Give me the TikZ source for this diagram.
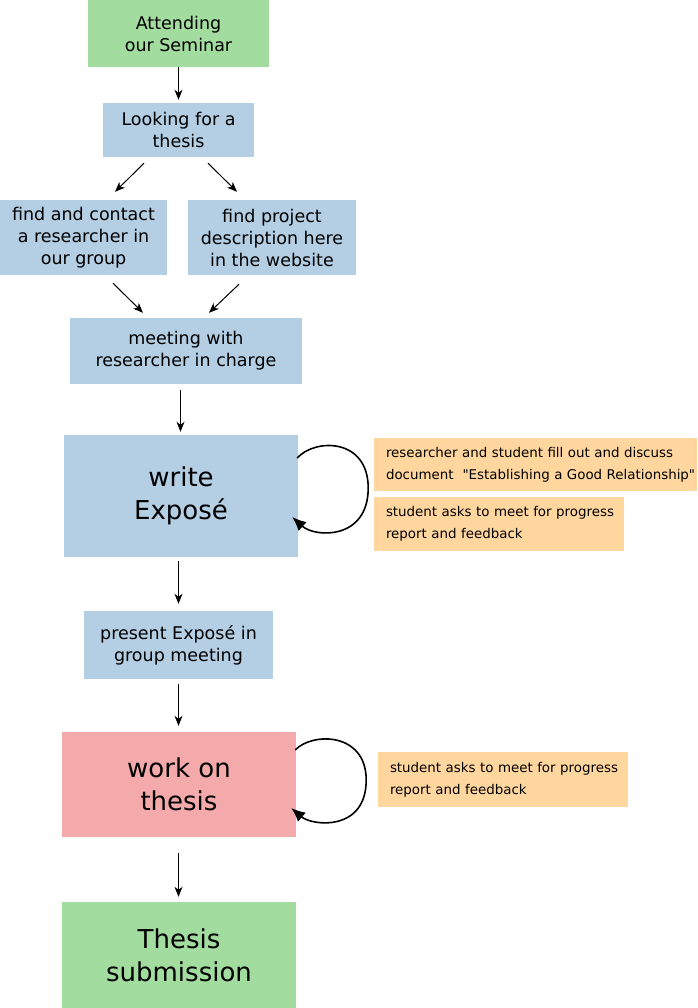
\documentclass[tikz,border=0pt]{standalone}
\usepackage{fontspec}
\setmainfont{DejaVu Sans}
\usepackage{tikz}
\usetikzlibrary{arrows.meta}
\definecolor{boxgreen}{HTML}{A2DC9E}
\definecolor{boxblue}{HTML}{B4CEE4}
\definecolor{boxpink}{HTML}{F4AAAB}
\definecolor{boxorange}{HTML}{FFD69E}
\tikzset{
  stepbox/.style={rectangle, inner sep=0pt, align=center, fill=boxblue,
    font=\fontsize{17.5pt}{22pt}\selectfont},
  bigbox/.style={stepbox, font=\fontsize{26pt}{33pt}\selectfont},
  notebox/.style={rectangle, inner xsep=12pt, inner ysep=0pt, align=left, fill=boxorange,
    font=\fontsize{13.4pt}{22pt}\selectfont},
  flow/.style={-{Stealth[length=10pt,width=8pt,inset=3pt]}, line width=1pt},
  loopflow/.style={-{Latex[length=14pt,width=12pt]}, line width=1.6pt},
}

\begin{document}
\begin{tikzpicture}[x=1pt,y=-1pt]
\useasboundingbox (0,0) rectangle (697,1008);
% boxes of the flow
\node[stepbox, fill=boxgreen, minimum width=181pt, minimum height=67pt] (seminar) at (178.5,33.5) {Attending\\our Seminar};
\node[stepbox, minimum width=151pt, minimum height=54pt] (looking) at (178.5,130) {Looking for a\\thesis};
\node[stepbox, minimum width=167pt, minimum height=75pt] (contact) at (83.5,237.5) {find and contact\\a researcher in\\our group};
\node[stepbox, minimum width=168pt, minimum height=75pt] (project) at (272,237.5) {find project\\description here\\in the website};
\node[stepbox, minimum width=232pt, minimum height=66pt] (meeting) at (186,351) {meeting with\\researcher in charge};
\node[bigbox, minimum width=234pt, minimum height=122pt] (expose) at (181,496) {write\\Exposé};
\node[stepbox, minimum width=189pt, minimum height=68pt] (present) at (178.5,645) {present Exposé in\\group meeting};
\node[bigbox, fill=boxpink, minimum width=234pt, minimum height=105pt] (work) at (179,784.5) {work on\\thesis};
\node[bigbox, fill=boxgreen, minimum width=234pt, minimum height=106pt] (submission) at (179,955) {Thesis\\submission};
% notes
\node[notebox, text width=299pt, minimum height=53pt] (relation) at (535.5,464.5)
  {\mbox{researcher and student fill out and discuss}\\\mbox{document~~\textquotedbl Establishing a Good Relationship\textquotedbl}};
\node[notebox, text width=226pt, minimum height=54pt] (feedback) at (499,524)
  {\mbox{student asks to meet for progress}\\\mbox{report and feedback}};
\node[notebox, text width=226pt, minimum height=55pt] (feedback2) at (503,779.5)
  {\mbox{student asks to meet for progress}\\\mbox{report and feedback}};
% arrows
\draw[flow, shorten >=3pt] (seminar) -- (looking);
\draw[flow] ([xshift=-34.5pt,yshift=-6pt]looking.south) -- ([xshift=31.5pt,yshift=8pt]contact.north);
\draw[flow] ([xshift=29.5pt,yshift=-6pt]looking.south) -- ([xshift=-35pt,yshift=8pt]project.north);
\draw[flow] ([xshift=29.5pt,yshift=-8pt]contact.south) -- ([xshift=-43pt,yshift=5pt]meeting.north);
\draw[flow] ([xshift=-33pt,yshift=-9pt]project.south) -- ([xshift=23pt,yshift=5pt]meeting.north);
\draw[flow, shorten <=6pt, shorten >=3pt] ([xshift=-0.5pt]expose.north |- meeting.south) -- ([xshift=-0.5pt]expose.north);
\draw[flow, shorten <=4pt, shorten >=7pt] (present.north |- expose.south) -- (present.north);
\draw[flow, shorten <=5pt, shorten >=6pt] ([xshift=-0.5pt]work.north |- present.south) -- ([xshift=-0.5pt]work.north);
\draw[flow, shorten <=16pt, shorten >=5pt] ([xshift=-0.5pt]work.south) -- ([xshift=-0.5pt]submission.north);
% loops
\draw[loopflow] ([xshift=-1pt,yshift=38pt]expose.east) .. controls +(18,-20) and +(0,-50) .. ([xshift=70pt,yshift=8pt]expose.east)
  .. controls +(0,52) and +(23,21) .. ([xshift=-6pt,yshift=-21pt]expose.east);
\draw[loopflow] ([xshift=-1pt,yshift=34.5pt]work.east) .. controls +(17,-18) and +(0,-48) .. ([xshift=70pt,yshift=4.5pt]work.east)
  .. controls +(0,52) and +(21,18) .. ([xshift=-5pt,yshift=-23.5pt]work.east);
\end{tikzpicture}
\end{document}
